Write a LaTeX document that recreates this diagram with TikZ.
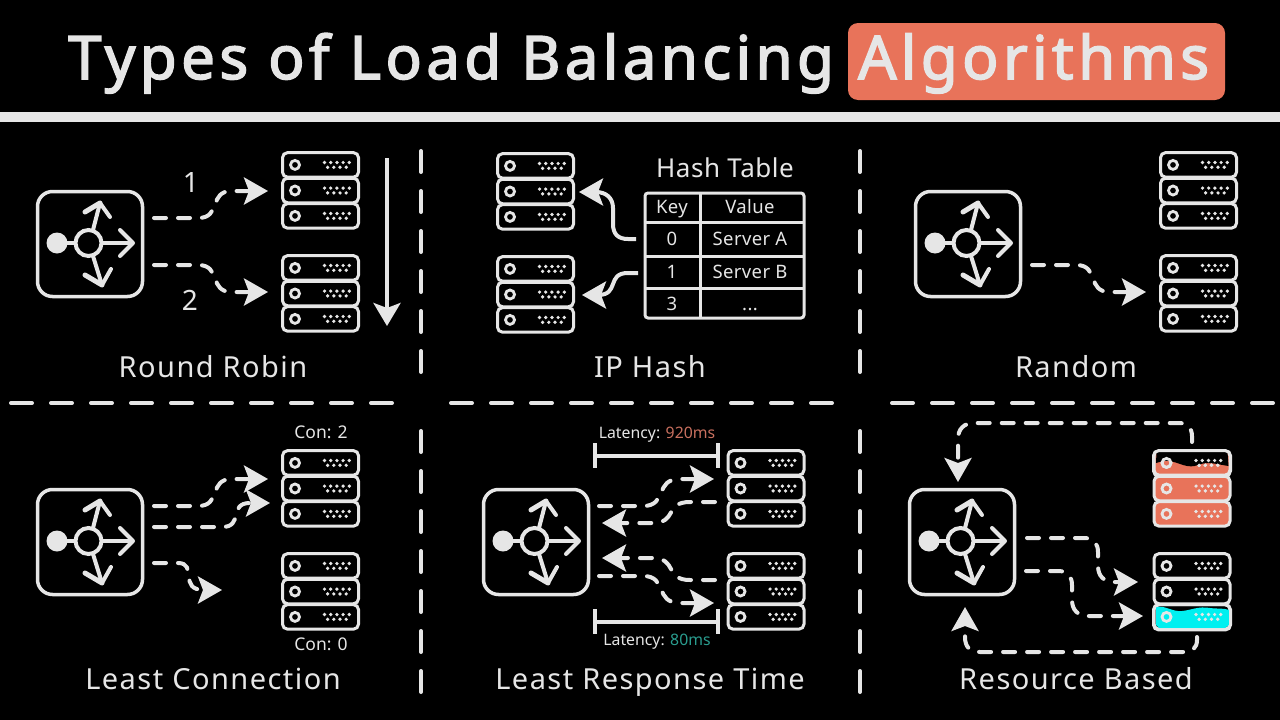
\documentclass[tikz,border=0pt]{standalone}
\usepackage{fontspec}
\usetikzlibrary{arrows.meta}
\setmainfont{Noto Sans}
\newfontfamily\titlefont[LetterSpace=7.4,FakeBold=2.6]{Noto Sans}
\newfontfamily\labelfont[LetterSpace=5]{Noto Sans}
\newfontfamily\tablefont[LetterSpace=2]{Noto Sans}
\definecolor{fg}{HTML}{E6E6E6}
\definecolor{coral}{HTML}{E8735A}
\definecolor{aqua}{HTML}{00F0F0}
\definecolor{lathigh}{HTML}{C9705F}
\definecolor{latlow}{HTML}{2A9D8F}
\tikzset{
  conntip/.style={-{Stealth[length=24pt,width=27pt,inset=5pt]}},
  dashconn/.style={conntip,draw=fg,fill=none,line width=4pt,line cap=round,dash pattern=on 12pt off 12pt},
  solidconn/.style={conntip,draw=fg,fill=none,line width=4pt},
  sepline/.style={draw=fg,line width=4pt,line cap=round,dash pattern=on 21pt off 19pt},
  lbbox/.style={draw=fg,line width=3.5pt,rounded corners=15pt,minimum width=105pt,minimum height=105pt,inner sep=0pt},
  unitbox/.style={draw=fg,line width=3pt,rounded corners=5pt,minimum width=76pt,minimum height=24.5pt,inner sep=0pt},
  caption/.style={text=fg,font=\labelfont\fontsize{29}{31}\selectfont,inner sep=0pt,anchor=base},
  small/.style={text=fg,font=\fontsize{17.5}{19}\selectfont,inner sep=0pt,anchor=base},
  cell/.style={text=fg,font=\tablefont\fontsize{18.5}{20}\selectfont,inner sep=0pt,anchor=base},
  bracket/.style={draw=fg,line width=4pt},
  iconline/.style={draw=fg,line width=4pt},
}
% load-balancer icon: name, centre
\newcommand{\lbicon}[2]{%
  \node[lbbox] (#1) at (#2) {};
  \begin{scope}[shift={(#2)}]
    \fill[fg] (-33,-1) circle (10.5);
    \draw[iconline] (-24,-1) -- (-15,-1);
    \draw[iconline] (-1.5,-1) circle (13);
    \draw[iconline] (11,-1) -- (42,-1);
    \draw[iconline,line join=round,line cap=round] (30,-14) -- (43,-1) -- (30,12);
    \draw[iconline] (3,-14) -- (10,-41);
    \draw[line width=5pt,draw=fg,line join=round,line cap=round] (-5,-32) -- (10,-41);
    \draw[iconline,line join=round,line cap=round] (10,-41) -- (20,-27);
    \draw[iconline] (3,12) -- (12,41);
    \draw[line width=5pt,draw=fg,line join=round,line cap=round] (-5,31) -- (12,41);
    \draw[iconline,line join=round,line cap=round] (12,41) -- (21,25);
  \end{scope}}
% one rack unit's lamp and vent dots: centre
\newcommand{\unitmarks}[1]{%
  \begin{scope}[shift={(#1)}]
    \draw[fg,line width=2.8pt] (-25.5,0) circle (4.5);
    \foreach \dx in {4,10.2,16.4,22.6,28.8} {\fill[fg] (\dx,-2.4) circle (1.85);}
    \foreach \dx in {7.1,13.3,19.5,25.7} {\fill[fg] (\dx,2.4) circle (1.85);}
  \end{scope}}
% server stack: name, cx, cy, fill
\newcommand{\serverstack}[4]{%
  \node[unitbox,fill=#4] (#1a) at (#2,#3-25.6) {};
  \node[unitbox,fill=#4] (#1b) at (#2,#3) {};
  \node[unitbox,fill=#4] (#1c) at (#2,#3+25.4) {};
  \unitmarks{#2,#3-25.6}\unitmarks{#2,#3}\unitmarks{#2,#3+25.4}}
\begin{document}
\begin{tikzpicture}[x=1pt,y=-1pt]
\useasboundingbox (0,0) rectangle (1280,720);
\fill[black] (0,0) rectangle (1280,720);
% header
\node[text=fg,font=\titlefont\fontsize{60}{62}\selectfont,inner sep=0pt,anchor=base west] (title) at (68,79) {Types of Load Balancing};
\node[fill=coral,rounded corners=10pt,minimum width=377pt,minimum height=77pt,inner sep=0pt] (tag) at (1036.5,61.5) {};
\node[text=fg,font=\titlefont\fontsize{60}{62}\selectfont,inner sep=0pt,anchor=base west] (tagtext) at (858,79) {Algorithms};
\fill[fg] (0,112) rectangle (1280,122);
% separators
\coordinate (va1) at (421,151); \coordinate (vb1) at (421,372);
\coordinate (va2) at (421,431); \coordinate (vb2) at (421,693);
\coordinate (vc1) at (860,151); \coordinate (vd1) at (860,372);
\coordinate (vc2) at (860,431); \coordinate (vd2) at (860,693);
\coordinate (ha1) at (11,403); \coordinate (hb1) at (392,403);
\coordinate (ha2) at (451,403); \coordinate (hb2) at (832,403);
\coordinate (ha3) at (892,403); \coordinate (hb3) at (1273,403);
\foreach \p/\q in {va1/vb1,va2/vb2,vc1/vd1,vc2/vd2,ha1/hb1,ha2/hb2,ha3/hb3}
  \draw[sepline] (\p) -- (\q);
% captions
\node[caption] (c1) at (213,377) {Round Robin};
\node[caption] (c2) at (650,377) {IP Hash};
\node[caption] (c3) at (1076,377) {Random};
\node[caption] (c4) at (213,689) {Least Connection};
\node[caption] (c5) at (650,689) {Least Response Time};
\node[caption] (c6) at (1076,689) {Resource Based};
% Round Robin
\lbicon{lbrr}{90,244}
\serverstack{rra}{320.5}{190.5}{black}
\serverstack{rrb}{320.5}{293.5}{black}
\node[text=fg,font=\fontsize{28}{30}\selectfont,inner sep=0pt,anchor=base] (n1) at (191,192) {1};
\node[text=fg,font=\fontsize{28}{30}\selectfont,inner sep=0pt,anchor=base] (n2) at (190,310) {2};
\coordinate (rr1s) at (154,218); \coordinate (rr1e) at (268,191);
\coordinate (rr2s) at (154,265); \coordinate (rr2e) at (268,292);
\draw[dashconn] (rr1s) -- (198,218) .. controls (222,218) and (208,191) .. (232,191) -- (rr1e);
\draw[dashconn] (rr2s) -- (198,265) .. controls (222,265) and (208,292) .. (232,292) -- (rr2e);
\coordinate (rrda) at (387,158); \coordinate (rrdb) at (387,326);
\draw[solidconn,-{Stealth[length=23pt,width=27pt,inset=5pt]}] (rrda) -- (rrdb);
% IP Hash
\serverstack{ipa}{535.5}{191.5}{black}
\serverstack{ipb}{535.5}{294.5}{black}
\node[text=fg,font=\tablefont\fontsize{26}{28}\selectfont,inner sep=0pt,anchor=base] (htitle) at (725,177) {Hash Table};
\node[draw=fg,line width=3pt,rounded corners=3pt,minimum width=159pt,minimum height=125pt,inner sep=0pt] (htable) at (724.5,255.5) {};
\draw[draw=fg,line width=3pt] (645,222) -- (804,222) (645,256) -- (804,256) (645,288) -- (804,288) (700,193) -- (700,318);
\node[cell] (k0) at (672,213) {Key};
\node[cell] (v0) at (750,213) {Value};
\node[cell] (k1) at (672,245) {0};
\node[cell] (v1) at (750,245) {Server A};
\node[cell] (k2) at (672,278) {1};
\node[cell] (v2) at (750,278) {Server B};
\node[cell] (k3) at (672,310) {3};
\node[cell] (v3) at (750,310) {...};
\coordinate (ip1s) at (636,239); \coordinate (ip1e) at (579,192);
\coordinate (ip2s) at (638,273); \coordinate (ip2e) at (582,295);
\draw[solidconn] (ip1s) -- (628,239) .. controls (618,239) and (613,234) .. (613,224) -- (613,208) .. controls (613,198) and (606,192) .. (596,192) -- (ip1e);
\draw[solidconn] (ip2s) -- (628,273) .. controls (606,273) and (620,295) .. (598,295) -- (ip2e);
% Random
\lbicon{lbrn}{968,244}
\serverstack{rna}{1198.5}{190.5}{black}
\serverstack{rnb}{1198.5}{293.5}{black}
\coordinate (rn1s) at (1032,265); \coordinate (rn1e) at (1146,292);
\draw[dashconn] (rn1s) -- (1076,265) .. controls (1100,265) and (1086,292) .. (1110,292) -- (rn1e);
% Least Connection
\lbicon{lblc}{90,542}
\serverstack{lca}{320.5}{488.5}{black}
\serverstack{lcb}{320.5}{591.5}{black}
\node[small] (con2) at (321,438) {Con: 2};
\node[small] (con0) at (321,650) {Con: 0};
\coordinate (lc1s) at (154,506); \coordinate (lc1e) at (268,479);
\coordinate (lc2s) at (154,527); \coordinate (lc2e) at (270,503);
\coordinate (lc3s) at (154,563); \coordinate (lc3e) at (222,590);
\draw[dashconn] (lc1s) -- (198,506) .. controls (222,506) and (208,479) .. (232,479) -- (lc1e);
\draw[dashconn] (lc2s) -- (222,527) .. controls (244,527) and (228,503) .. (250,503) -- (lc2e);
\draw[dashconn] (lc3s) -- (178,563) .. controls (198,563) and (178,590) .. (204,590) -- (lc3e);
% Least Response Time
\lbicon{lbrt}{536,542}
\serverstack{rta}{766}{488.5}{black}
\serverstack{rtb}{766}{591.5}{black}
\coordinate (br1a) at (595,456); \coordinate (br1b) at (718,456);
\coordinate (br2a) at (595,622); \coordinate (br2b) at (718,622);
\draw[bracket] (br1a) -- (br1b);
\draw[bracket] (br2a) -- (br2b);
\draw[bracket] (595,443) -- (595,468) (718,443) -- (718,468) (595,609) -- (595,634) (718,609) -- (718,634);
\node[small,font=\fontsize{15.8}{17}\selectfont] (lat1) at (657,438) {Latency: \textcolor{lathigh}{920ms}};
\node[small,font=\fontsize{15.8}{17}\selectfont] (lat2) at (657,645) {Latency: \textcolor{latlow}{80ms}};
\coordinate (rt1s) at (599,506); \coordinate (rt1e) at (714,479);
\coordinate (rt2s) at (715,502); \coordinate (rt2e) at (602,523);
\coordinate (rt3s) at (715,580); \coordinate (rt3e) at (602,558);
\coordinate (rt4s) at (599,576); \coordinate (rt4e) at (714,603);
\draw[dashconn] (rt1s) -- (643,506) .. controls (668,506) and (654,479) .. (680,479) -- (rt1e);
\draw[dashconn] (rt2s) -- (690,502) .. controls (664,502) and (678,523) .. (652,523) -- (rt2e);
\draw[dashconn] (rt3s) -- (690,580) .. controls (664,580) and (678,558) .. (652,558) -- (rt3e);
\draw[dashconn] (rt4s) -- (643,576) .. controls (668,576) and (654,603) .. (680,603) -- (rt4e);
% Resource Based
\lbicon{lbrb}{962,542}
\serverstack{rba}{1192}{488.5}{coral}
\serverstack{rbb}{1192}{591.5}{black}
% partial loads
\fill[black] (1156.5,452) -- (1227.5,452) -- (1228.5,466) .. controls (1215,464) and (1208,461) .. (1198,465) .. controls (1188,469) and (1180,463) .. (1170,461) .. controls (1164,460) and (1160,462) .. (1156,463) -- cycle;
\fill[aqua] (1156,607) .. controls (1165,605) and (1172,612) .. (1182,611) .. controls (1192,610) and (1198,606) .. (1210,608) .. controls (1218,609) and (1224,608) .. (1229,610) -- (1229,625) -- (1225,628) -- (1159,628) -- (1156,625) -- cycle;
\draw[draw=fg,line width=3pt,rounded corners=5pt] (1153.5,450.7) rectangle (1230.5,475.9);
\draw[draw=fg,line width=3pt,rounded corners=5pt] (1153.5,604.7) rectangle (1230.5,629.9);
\unitmarks{1192,462.9}\unitmarks{1192,616.9}
\coordinate (rb1s) at (1192,442); \coordinate (rb1e) at (958,482);
\coordinate (rb2s) at (1027,538); \coordinate (rb2e) at (1138,582);
\coordinate (rb3s) at (1026,571); \coordinate (rb3e) at (1143,616);
\coordinate (rb4s) at (1197,637); \coordinate (rb4e) at (965,607);
\draw[dashconn] (rb1s) -- (1192,436) .. controls (1192,428) and (1187,423) .. (1179,423) -- (974,423) .. controls (964,423) and (958,429) .. (958,439) -- (rb1e);
\draw[dashconn] (rb2s) -- (1084,538) .. controls (1094,538) and (1098,544) .. (1098,552) -- (1098,566) .. controls (1098,576) and (1104,582) .. (1114,582) -- (rb2e);
\draw[dashconn] (rb3s) -- (1058,571) .. controls (1068,571) and (1072,577) .. (1072,585) -- (1072,600) .. controls (1072,610) and (1078,616) .. (1088,616) -- (rb3e);
\draw[dashconn] (rb4s) -- (1197,640) .. controls (1197,648) and (1192,652) .. (1184,652) -- (980,652) .. controls (970,652) and (965,647) .. (965,637) -- (rb4e);
\end{tikzpicture}
\end{document}
